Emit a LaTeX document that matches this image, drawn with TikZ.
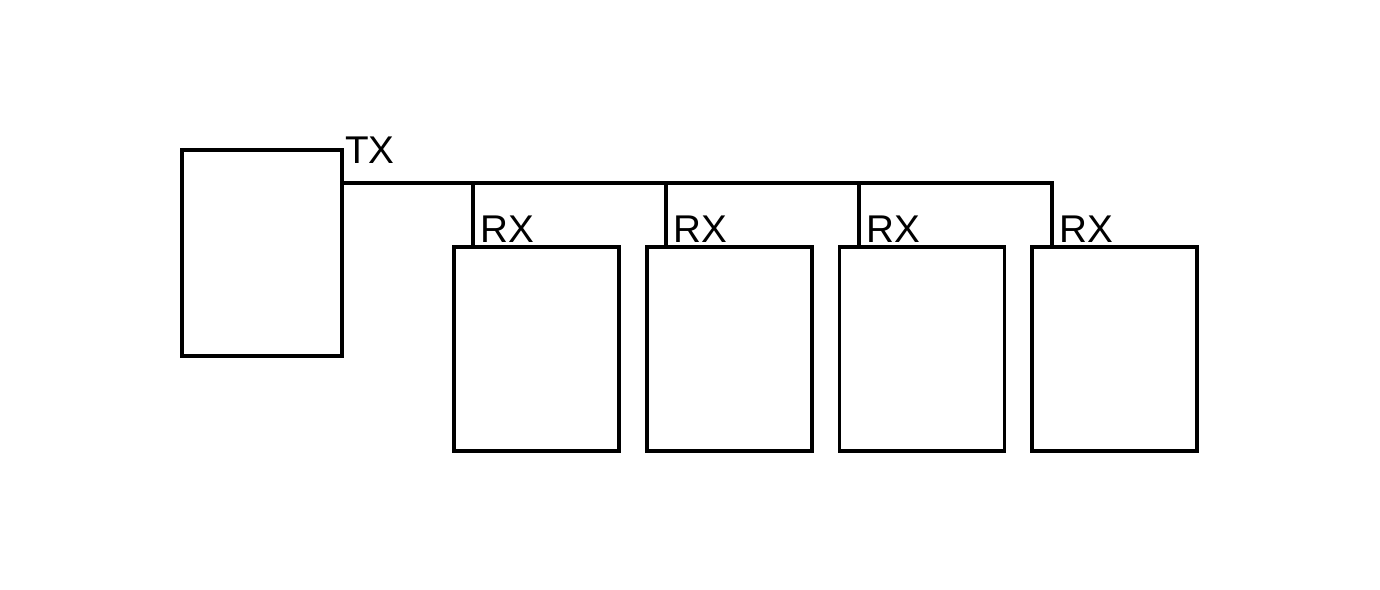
\documentclass[tikz,border=0pt]{standalone}
\usepackage{fontspec}
\setmainfont{Liberation Sans}
\begin{document}
\begin{tikzpicture}[x=0.02cm,y=-0.02cm,
  box/.style={draw=black,line width=2.1pt,minimum width=#1,inner sep=0pt},
  lbl/.style={anchor=base west,inner sep=0pt,font=\fontsize{22}{22}\selectfont},
  wire/.style={line width=2.1pt,line cap=rect}]
\useasboundingbox (0,0) rectangle (1380,590);
\node[box=3.2cm,minimum height=4.12cm] (tx) at (262,253) {};
\node[box=3.3cm,minimum height=4.08cm] (r1) at (536.5,349) {};
\node[box=3.3cm,minimum height=4.08cm] (r2) at (729.5,349) {};
\node[box=3.3cm,minimum height=4.08cm] (r3) at (922,349) {};
\node[box=3.3cm,minimum height=4.08cm] (r4) at (1114.5,349) {};
\coordinate (t) at (342,183);
\coordinate (j1) at (473,183);
\coordinate (j2) at (666,183);
\coordinate (j3) at (859,183);
\coordinate (j4) at (1052,183);
\draw[wire] (t) -- (j4);
\draw[wire] (j1) -- (j1 |- r1.north);
\draw[wire] (j2) -- (j2 |- r2.north);
\draw[wire] (j3) -- (j3 |- r3.north);
\draw[wire] (j4) -- (j4 |- r4.north);
\node[lbl] (ltx) at (345,164) {TX};
\node[lbl] (l1) at (480,243) {RX};
\node[lbl] (l2) at (673,243) {RX};
\node[lbl] (l3) at (866,243) {RX};
\node[lbl] (l4) at (1059,243) {RX};
\end{tikzpicture}
\end{document}
